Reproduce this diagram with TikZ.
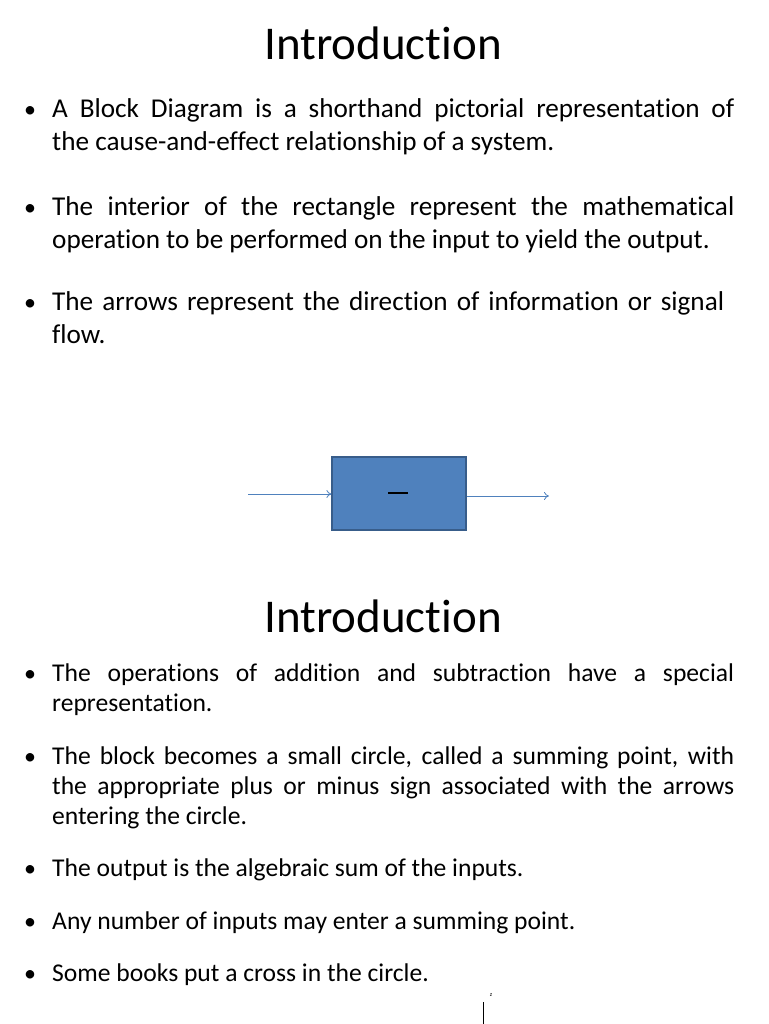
\documentclass[tikz,border=0pt]{standalone}
\usepackage{fontspec}
\setmainfont[Ligatures={NoCommon}]{Carlito}
\usetikzlibrary{arrows.meta}
\definecolor{blk}{RGB}{79,129,189}
\definecolor{blkd}{RGB}{56,93,138}
\begin{document}
\begin{tikzpicture}[x=1pt,y=-1pt,
  title/.style={font=\fontsize{47}{54}\selectfont,anchor=base},
  bul/.style={anchor=base,font=\fontsize{24}{30}\selectfont,inner sep=0},
  para/.style={anchor=base west,text width=682pt,align=justify,inner sep=0},
  sig/.style={draw=blk,line width=0.8pt,-{To[length=5pt,width=8pt]}}]
\useasboundingbox (0,0) rectangle (768,1024);
\node[title] (t1) at (383,60) {Introduction};
\node[bul] (b1) at (30,118) {•};
\node[para,font=\fontsize{27.2}{33}\selectfont] (p1) at (52,118) {A Block Diagram is a shorthand pictorial representation of\linebreak the cause-and-effect relationship of a system.};
\node[bul] (b2) at (30,215) {•};
\node[para,font=\fontsize{27.2}{33}\selectfont] (p2) at (52,215) {The interior of the rectangle represent the mathematical\linebreak operation to be performed on the input to yield the output.};
\node[bul] (b3) at (30,310) {•};
\node[para,text width=682pt,align=left,font=\fontsize{27.2}{33}\selectfont] (p3) at (52,310) {The arrows represent the direction of information or signal\\ flow.};
\node[draw=blkd,line width=1.2pt,fill=blk,minimum width=134pt,minimum height=73pt,inner sep=0] (box) at (399,493.5) {};
\draw[line width=1.2pt] (388,493) -- (408,493);
\coordinate (in) at (248,494);
\coordinate (out) at (549,496);
\draw[sig] (in) -- (box.west |- in);
\draw[sig] (box.east |- out) -- (out);
\node[title] (t2) at (383,632) {Introduction};
\node[bul] (c1) at (30,681) {•};
\node[para,font=\fontsize{25.6}{30}\selectfont] (q1) at (52,681) {The operations of addition and subtraction have a special\linebreak representation.};
\node[bul] (c2) at (30,764) {•};
\node[para,font=\fontsize{25.6}{30}\selectfont] (q2) at (52,764) {The block becomes a small circle, called a summing point, with\linebreak the appropriate plus or minus sign associated with the arrows\linebreak entering the circle.};
\node[bul] (c3) at (30,876) {•};
\node[para,font=\fontsize{25.6}{30}\selectfont] (q3) at (52,876) {The output is the algebraic sum of the inputs.};
\node[bul] (c4) at (30,929) {•};
\node[para,font=\fontsize{25.6}{30}\selectfont] (q4) at (52,929) {Any number of inputs may enter a summing point.};
\node[bul] (c5) at (30,981) {•};
\node[para,font=\fontsize{25.6}{30}\selectfont] (q5) at (52,981) {Some books put a cross in the circle.};
\draw[line width=1.2pt] (483.5,1002) -- (483.5,1024);
\node[font=\fontsize{6}{6}\selectfont,inner sep=0] (z) at (491,995) {z};
\end{tikzpicture}
\end{document}
